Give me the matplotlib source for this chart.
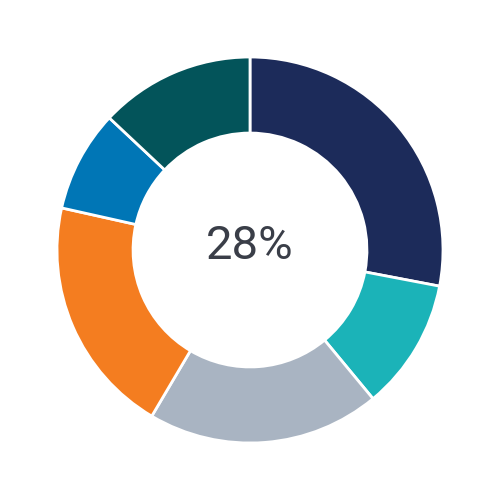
import matplotlib
matplotlib.use("Agg")
import matplotlib.pyplot as plt

# segment shares in percent, clockwise from 12 o'clock
labels = ["Navy", "Teal", "Gray", "Orange", "Blue", "Green"]
values = [28, 11, 19.5, 20, 8.5, 13]
colors = ["#1c2b5a", "#1bb3b8", "#a9b4c2", "#f47d20", "#0076b6", "#03545a"]
center_label = "28%"

fig = plt.figure(figsize=(5, 5), dpi=100)
ax = fig.add_axes([0, 0, 1, 1])

ax.pie(values, colors=colors, startangle=90, counterclock=False,
       radius=1.0,
       wedgeprops=dict(width=0.394, edgecolor="white", linewidth=2))

ax.text(0, 0.02, center_label, ha="center", va="center",
        fontsize=34, color="#3a3e48", family="Roboto")

lim = 250 / 193
ax.set_xlim(-lim, lim)
ax.set_ylim(-lim, lim)
ax.set_aspect("equal")
ax.axis("off")

fig.savefig("out.png", dpi=100, facecolor="white")
